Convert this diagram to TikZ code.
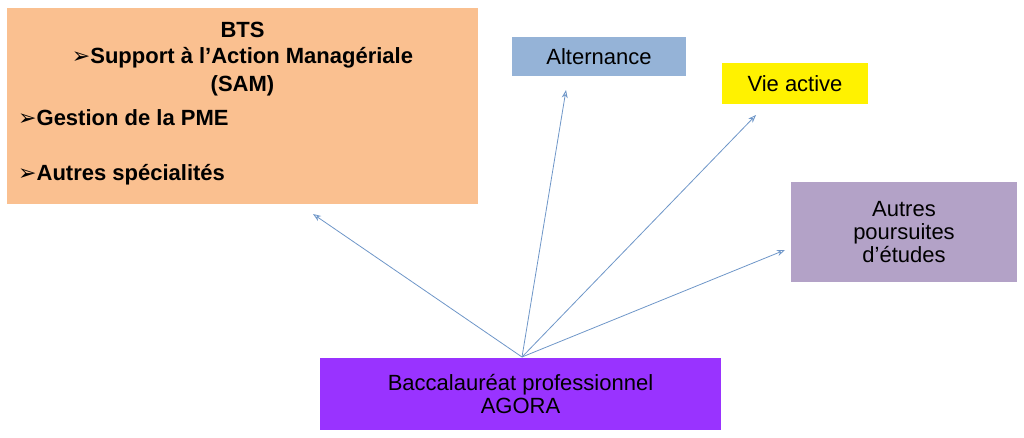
\documentclass[tikz,border=0pt]{standalone}
\usepackage{fontspec}
\setmainfont{Liberation Sans}
\newfontfamily\symfont{DejaVu Sans}
\usetikzlibrary{positioning, arrows.meta}
\definecolor{peach}{RGB}{250, 192, 144}
\definecolor{steel}{RGB}{149, 179, 215}
\definecolor{lavender}{RGB}{179, 162, 199}
\definecolor{violet}{RGB}{153, 51, 255}
\definecolor{link}{RGB}{110, 150, 200}
\newcommand{\puce}{{\symfont\bfseries\char"27A2}}

\begin{document}
\begin{tikzpicture}[x=1pt, y=-1pt, font=\fontsize{22}{26}\selectfont,
  box/.style={draw=none, inner sep=0pt, align=center},
  link/.style={->, >={Stealth[length=8pt, width=6pt, open]}, color=link, line width=0.8pt}]

        \useasboundingbox (0,0) rectangle (1024,437);

        % boxes
        \node[box, fill=peach, minimum width=471pt, minimum height=196pt] (bts) at (242.5,106) {};
        \node[box, fill=steel, minimum width=174pt, minimum height=39pt] (alt) at (599,56.5) {Alternance};
        \node[box, fill=yellow, minimum width=146pt, minimum height=41pt] (vie) at (795,83.5) {Vie active};
        \node[box, fill=lavender, minimum width=226pt, minimum height=100pt] (pour) at (904,232)
        {Autres\\[-3pt]poursuites\\[-3pt]d'études};
        \node[box, fill=violet, minimum width=401pt, minimum height=72pt] (bac) at (520.5,394)
        {Baccalauréat professionnel\\[-3pt]AGORA};

        % BTS text
        \node[font=\fontsize{22}{26}\selectfont\bfseries] (bts1) at (242.5,30) {BTS};
        \node[font=\fontsize{22}{26}\selectfont\bfseries] (bts2) at (242.5,58) {\puce Support à l'Action Managériale};
        \node[font=\fontsize{22}{26}\selectfont\bfseries] (bts3) at (242.5,86) {(SAM)};
        \node[font=\fontsize{22}{26}\selectfont\bfseries, anchor=west, inner sep=0pt] (bts4) at (18,118) {\puce Gestion de la PME};
        \node[font=\fontsize{22}{26}\selectfont\bfseries, anchor=west, inner sep=0pt] (bts5) at (18,175) {\puce Autres spécialités};

        % arrows
        \coordinate (src) at (522,357);
        \coordinate (e1) at (313,214);
        \coordinate (e2) at (566,90);
        \coordinate (e3) at (756,115);
        \coordinate (e4) at (785,250);

        \draw[link] (src) -- (e1);
        \draw[link] (src) -- (e2);
        \draw[link] (src) -- (e3);
        \draw[link] (src) -- (e4);
\end{tikzpicture}
\end{document}
